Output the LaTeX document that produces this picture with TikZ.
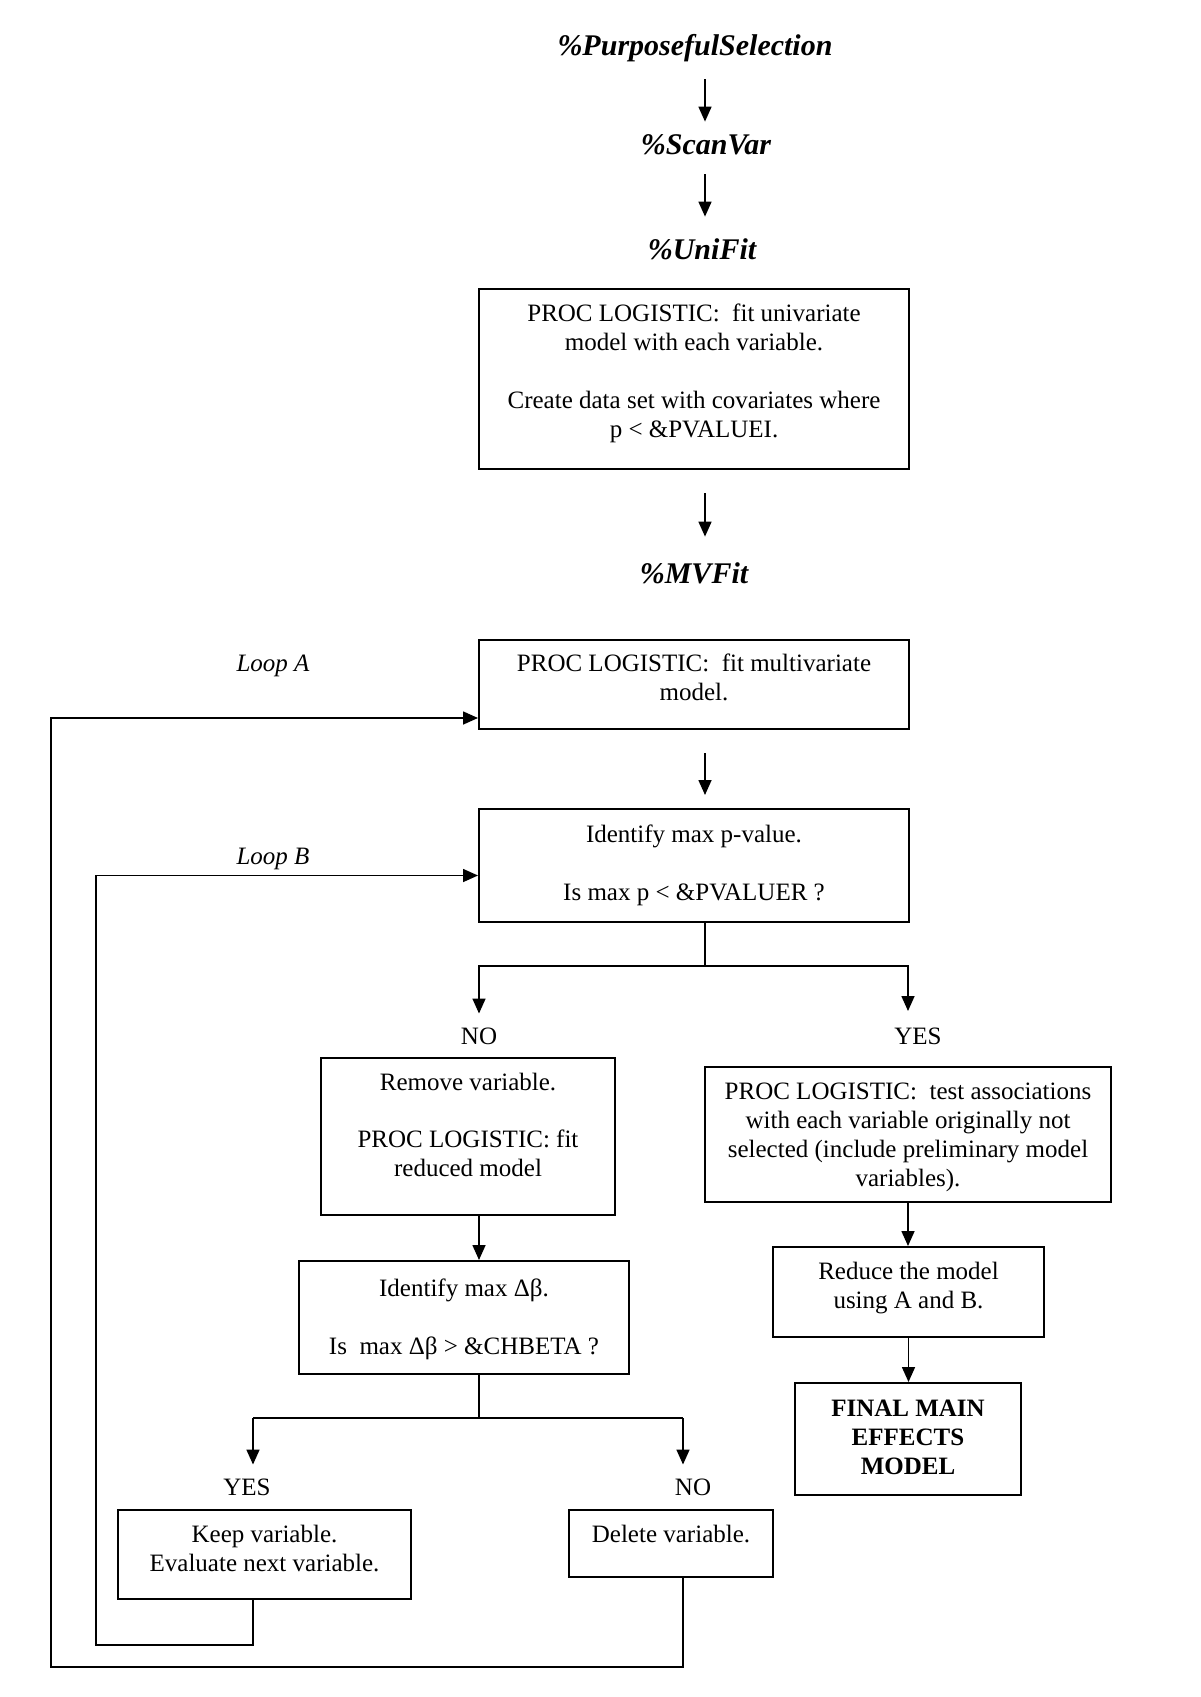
\documentclass[tikz,border=0pt]{standalone}
\usepackage{fontspec}
\setmainfont{Liberation Serif}
\usetikzlibrary{arrows.meta}
\newcommand{\boxtxt}[2]{\raisebox{#1}[0pt][0pt]{\begin{tabular}{@{}c@{}}#2\end{tabular}}}
\tikzset{
  box/.style={draw, line width=1pt, align=center, inner sep=0pt},
  title/.style={font=\fontsize{15}{18}\selectfont\bfseries\itshape, inner sep=0pt, text height=10pt, text depth=3pt},
  arr/.style={-{Triangle[length=7.5pt,width=6.5pt]}, line width=0.8pt},
  line/.style={line width=0.8pt}
}
\begin{document}
\begin{tikzpicture}[x=0.5pt,y=-0.5pt, every node/.style={font=\fontsize{12.5}{14.5}\selectfont}]
\useasboundingbox (0,0) rectangle (1200,1697);
\node[title] (ps) at (695,48) {\%PurposefulSelection};
\node[title] (sv) at (706,147) {\%ScanVar};
\node[title] (uf) at (702,252) {\%UniFit};
\node[box, minimum width=215pt, minimum height=90pt] (fituni) at (694,379) {\boxtxt{-0.55pt}{PROC LOGISTIC:\ \ fit univariate\\model with each variable.\\[14.5pt]Create data set with covariates where\\p < \&PVALUEI.}};
\node[title] (mv) at (694,576) {\%MVFit};
\node (loopa) at (273,666) {\itshape Loop A};
\node[box, minimum width=215pt, minimum height=44.5pt] (fitmv) at (694,684.5) {\boxtxt{-1.05pt}{PROC LOGISTIC:\ \ fit multivariate\\model.}};
\node[box, minimum width=215pt, minimum height=56.5pt] (maxp) at (694,865.5) {\boxtxt{-3.05pt}{Identify max p-value.\\[14.5pt]Is max p < \&PVALUER ?}};
\node (loopb) at (273,859) {\itshape Loop B};
\node (no1) at (479,1036) {NO};
\node (yes1) at (918,1036) {YES};
\node[box, minimum width=147pt, minimum height=78.5pt] (remove) at (468,1136.5) {\boxtxt{1.2pt}{Remove variable.\\[14pt]PROC LOGISTIC: fit\\reduced model}};
\node[box, minimum width=203pt, minimum height=67.5pt] (assoc) at (908,1134.5) {\boxtxt{-4.3pt}{PROC LOGISTIC:\ \ test associations\\with each variable originally not\\selected (include preliminary model\\variables).}};
\node[box, minimum width=165pt, minimum height=56.5pt] (maxdb) at (464,1317.5) {\boxtxt{-4.3pt}{Identify max Δβ.\\[14.5pt]Is\ \ max Δβ > \&CHBETA ?}};
\node[box, minimum width=135.5pt, minimum height=45pt] (reduce) at (908.5,1292) {\boxtxt{-1.3pt}{Reduce the model\\using A and B.}};
\node[box, minimum width=113pt, minimum height=56pt, font=\fontsize{12.5}{14.5}\selectfont\bfseries] (final) at (908,1439) {\boxtxt{-3.3pt}{FINAL MAIN\\EFFECTS\\MODEL}};
\node (yes2) at (247,1487) {YES};
\node (no2) at (693,1487) {NO};
\node[box, minimum width=146.5pt, minimum height=44.5pt] (keep) at (264.5,1554.5) {\boxtxt{-1.55pt}{Keep variable.\\Evaluate next variable.}};
\node[box, minimum width=102pt, minimum height=33.5pt] (delete) at (671,1543.5) {\boxtxt{0.45pt}{Delete variable.}};
\coordinate (col) at (705,0);
\coordinate (b1) at (705,966);
\coordinate (b2) at (479,1418);
\coordinate (b2l) at (253,1418);
\coordinate (b2r) at (683,1418);
\coordinate (la) at (51,1667);
\coordinate (lb) at (96,1645);
\draw[arr, shorten <=9pt, shorten >=6pt] (ps.south -| col) -- (sv.north -| col);
\draw[arr, shorten <=7pt, shorten >=11pt] (sv.south -| col) -- (uf.north -| col);
\draw[arr, shorten <=11.5pt, shorten >=13pt] (fituni.south -| col) -- (mv.north -| col);
\draw[arr, shorten <=11.5pt, shorten >=6.5pt] (fitmv.south -| col) -- (maxp.north -| col);
\draw[line] (maxp.south -| col) -- (b1);
\draw[arr, shorten >=3.5pt] (b1) -| (no1.north);
\draw[arr, shorten >=27.5pt] (b1) -| (assoc.north);
\draw[arr] (remove.south -| b2) -- (maxdb.north -| b2);
\draw[arr] (assoc.south) -- (assoc.south |- reduce.north);
\draw[arr] (reduce.south) -- (reduce.south |- final.north);
\draw[line] (maxdb.south -| b2) -- (b2);
\draw[line] (b2l) -- (b2r);
\draw[arr, shorten >=3.5pt] (b2l) -- (b2l |- yes2.north);
\draw[arr, shorten >=3.5pt] (b2r) -- (b2r |- no2.north);
\draw[arr] (keep.south -| b2l) |- (lb) |- ([yshift=-5pt]maxp.west);
\draw[arr] (delete.south -| b2r) |- (la) |- ([yshift=-16.75pt]fitmv.west);
\end{tikzpicture}
\end{document}
